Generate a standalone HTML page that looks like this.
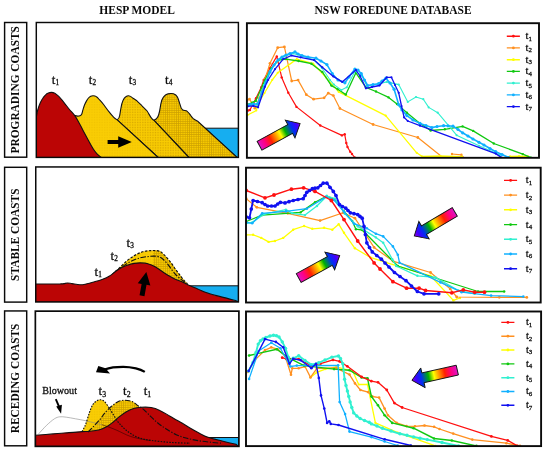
<!DOCTYPE html>
<html><head><meta charset="utf-8"><title>Foredune models</title>
<style>
html,body{margin:0;padding:0;background:#fff}
body{width:550px;height:456px;overflow:hidden}
svg{display:block}
text{font-family:"Liberation Serif",serif;fill:#0a0a0a}
.b{font-weight:bold}
.r{font-weight:normal;stroke:#111;stroke-width:0.28px}
.bx{fill:none;stroke:#0a0a0a;stroke-width:1.8}
</style></head><body>
<svg width="550" height="456" viewBox="0 0 550 456"><defs>
<linearGradient id="rb" gradientUnits="userSpaceOnUse" x1="0" y1="0" x2="46" y2="0">
<stop offset="0" stop-color="#dc14c8"/><stop offset="0.14" stop-color="#ff0080"/><stop offset="0.28" stop-color="#ff2000"/><stop offset="0.42" stop-color="#ffa000"/><stop offset="0.52" stop-color="#ffff00"/><stop offset="0.64" stop-color="#00b000"/><stop offset="0.8" stop-color="#0030f0"/><stop offset="0.92" stop-color="#4000ff"/><stop offset="1" stop-color="#8000e0"/>
</linearGradient>
<pattern id="d1" width="1.65" height="1.65" patternUnits="userSpaceOnUse"><rect width="1.65" height="1.65" fill="#f9cd04"/><rect width="0.7" height="0.7" fill="#efbf00"/></pattern>
<pattern id="d2" width="1.65" height="1.65" patternUnits="userSpaceOnUse"><rect width="1.65" height="1.65" fill="#f8cb02"/><rect width="0.75" height="0.75" fill="#d2a200"/></pattern>
<pattern id="d3" width="2.2" height="2.2" patternUnits="userSpaceOnUse"><rect width="2.2" height="2.2" fill="#f7c900"/><rect width="2.2" height="0.6" fill="#cca000"/><rect width="0.6" height="2.2" fill="#cca000"/></pattern>
<clipPath id="c1"><rect x="246.9" y="23.2" width="292.1" height="134.6"/></clipPath>
<clipPath id="c2"><rect x="246" y="167.7" width="294.7" height="134.8"/></clipPath>
<clipPath id="c3"><rect x="246" y="311.5" width="295.1" height="134.6"/></clipPath>
<clipPath id="p1"><rect x="36.3" y="22.5" width="202.2" height="134.9"/></clipPath>
<clipPath id="p2"><rect x="35.75" y="166.95" width="202.65" height="135"/></clipPath>
<clipPath id="p3"><rect x="35.35" y="311.15" width="203.55" height="135.2"/></clipPath>
</defs><rect width="550" height="456" fill="#fff"/><text transform="translate(137.1,13.5) scale(0.905,1)" text-anchor="middle" class="b" font-size="12.7">HESP MODEL</text><text transform="translate(393.1,13.5) scale(0.905,1)" text-anchor="middle" class="b" font-size="12.7">NSW FOREDUNE DATABASE</text><g clip-path="url(#p1)">
<path d="M205,128.2 L238.7,128.2 L238.7,157.5 L237,157.5 Z" fill="#16aef0" stroke="#111" stroke-width="1"/>
<path d="M153.8,120.2 C156,119.5 157.6,118 158.6,115 C160,111 160.2,107 160.8,104.1 C161.5,100.5 162.3,98.5 163.4,97.1 C164.8,95.2 166,94.3 167.8,93.9 C169.8,93.4 171.8,93.4 173.5,93.7 C175.2,94.2 176.5,95.3 177.4,97.1 C178.5,99.3 179.2,102 179.9,104.1 C180.5,106.5 181.2,108.8 182.5,109.8 C184,110.8 185.5,110.3 186.9,111.1 C188.5,112.2 189.6,114 190.7,115.5 C191.6,116.7 192.4,117.8 193.3,118.7 C194.6,119.9 196,120.5 197.7,121.3 L237.3,157.5 L189,157.5 Z" fill="url(#d3)" stroke="#111" stroke-width="1.1"/>
<path d="M117.2,119.9 C118.6,119 119.4,117.5 119.7,115.5 C120.3,112.5 120.5,110 121,107.8 C121.5,105 122,102.8 122.9,100.8 C123.6,99.2 124.4,97.8 125.5,97 C126.5,96.2 127.5,95.7 128.6,95.7 C130.3,95.7 131.7,97 133.1,98.3 C134.4,99.3 135.6,99.8 136.9,100.8 C138.7,102.3 140.3,104.1 142,105.9 C143.7,107.6 145.5,109.2 147.1,111 C148.5,113 149.6,115.5 150.9,117.4 C151.8,118.7 152.7,119.8 153.8,120.2 L189,157.5 L158.2,157.5 Z" fill="url(#d2)" stroke="#111" stroke-width="1.1"/>
<path d="M74.8,115.6 C75.2,115.7 76.6,116.1 77.5,116.1 C78.4,116.1 79.3,116.1 80.0,115.8 C80.7,115.5 81.3,115.0 81.8,114.0 C82.3,113.0 82.5,111.2 83.0,109.7 C83.5,108.2 83.9,106.4 84.5,105.0 C85.1,103.6 85.7,102.3 86.4,101.1 C87.1,99.9 87.8,98.8 88.5,98.0 C89.2,97.2 90.0,96.7 90.7,96.3 C91.5,95.9 92.3,95.8 93.0,95.8 C93.7,95.8 94.4,95.8 95.0,96.0 C95.6,96.2 96.2,96.6 96.8,97.0 C97.4,97.4 97.3,97.2 98.4,98.5 C99.5,99.8 101.9,102.3 103.6,104.5 C105.3,106.7 107.0,109.2 108.7,111.4 C110.4,113.6 112.4,116.0 113.8,117.4 C115.2,118.8 116.6,119.5 117.2,119.9  L158.2,157.5 L80,157.5 L68,118 Z" fill="url(#d1)" stroke="#111" stroke-width="1.1"/>
<path d="M36.3,157.5 L36.3,117.5 C36.5,116.3 36.9,113.0 37.6,110.5 C38.3,108.0 39.4,104.8 40.3,102.8 C41.2,100.8 41.9,99.5 42.8,98.2 C43.6,96.9 44.5,95.9 45.4,95.1 C46.3,94.2 47.3,93.5 48.3,93.1 C49.3,92.6 50.3,92.4 51.4,92.4 C52.5,92.4 53.6,92.6 54.8,93.2 C56.0,93.8 56.9,94.6 58.5,96.2 C60.1,97.8 62.4,100.6 64.2,102.8 C66.0,105.0 67.7,107.4 69.5,109.5 C71.3,111.6 73.1,113.2 74.8,115.6 C76.5,118.0 78.0,121.0 79.7,124.0 C81.4,127.0 83.2,130.7 84.7,133.6 C86.2,136.5 87.6,138.9 89.0,141.5 C90.4,144.1 92.0,146.9 93.3,149.0 C94.6,151.1 95.7,152.4 97.0,153.8 C98.3,155.2 100.5,156.9 101.2,157.5  Z" fill="#bb0505" stroke="#111" stroke-width="1.1"/>
<path d="M107.6,140.1 L118.2,140.1 L118.2,136.2 L131.8,142 L118.2,147.8 L118.2,143.9 L107.6,143.9 Z" fill="#000"/>
</g>
<text x="51.8" y="84.2" font-size="13" class="r">t<tspan font-size="7.3" dy="0.9">1</tspan></text><text x="88.8" y="84.2" font-size="13" class="r">t<tspan font-size="7.3" dy="0.9">2</tspan></text><text x="128.8" y="84.2" font-size="13" class="r">t<tspan font-size="7.3" dy="0.9">3</tspan></text><text x="165.0" y="84.2" font-size="13" class="r">t<tspan font-size="7.3" dy="0.9">4</tspan></text><g clip-path="url(#p2)">
<path d="M189,285.8 L238.7,285.8 L238.7,302.2 L189,302.2 Z" fill="#16aef0" stroke="#111" stroke-width="1"/>
<path d="M112.5,274.0 C113.3,273.3 115.1,271.9 117.4,269.8 C119.7,267.7 123.6,263.7 126.4,261.3 C129.2,258.9 131.8,257.1 134.5,255.5 C137.2,253.9 140.0,252.6 142.7,251.8 C145.4,251.0 148.2,250.7 150.9,250.6 C153.6,250.5 156.9,250.4 159.1,251.1 C161.3,251.8 162.1,252.9 164.0,254.7 C165.9,256.5 168.4,259.5 170.5,262.1 C172.6,264.7 174.5,267.9 176.3,270.3 C178.1,272.8 179.7,274.9 181.2,276.8 C182.7,278.7 184.2,280.5 185.3,281.7 C186.4,282.9 187.1,283.4 187.5,283.8  L160,280 Z" fill="url(#d1)"/>
<clipPath id="rr"><rect x="153" y="240" width="40" height="50"/></clipPath>
<path d="M112.5,274.0 C113.3,273.3 115.1,271.9 117.4,269.8 C119.7,267.7 123.6,263.7 126.4,261.3 C129.2,258.9 131.8,257.1 134.5,255.5 C137.2,253.9 140.0,252.6 142.7,251.8 C145.4,251.0 148.2,250.7 150.9,250.6 C153.6,250.5 156.9,250.4 159.1,251.1 C161.3,251.8 162.1,252.9 164.0,254.7 C165.9,256.5 168.4,259.5 170.5,262.1 C172.6,264.7 174.5,267.9 176.3,270.3 C178.1,272.8 179.7,274.9 181.2,276.8 C182.7,278.7 184.2,280.5 185.3,281.7 C186.4,282.9 187.1,283.4 187.5,283.8  L160,280 Z" fill="url(#d3)" clip-path="url(#rr)"/>
<path d="M112.5,274.0 C113.3,273.3 115.1,271.9 117.4,269.8 C119.7,267.7 123.6,263.7 126.4,261.3 C129.2,258.9 131.8,257.1 134.5,255.5 C137.2,253.9 140.0,252.6 142.7,251.8 C145.4,251.0 148.2,250.7 150.9,250.6 C153.6,250.5 156.9,250.4 159.1,251.1 C161.3,251.8 162.1,252.9 164.0,254.7 C165.9,256.5 168.4,259.5 170.5,262.1 C172.6,264.7 174.5,267.9 176.3,270.3 C178.1,272.8 179.7,274.9 181.2,276.8 C182.7,278.7 184.2,280.5 185.3,281.7 C186.4,282.9 187.1,283.4 187.5,283.8 " fill="none" stroke="#111" stroke-width="1.15" stroke-dasharray="2.5 1.5"/>
<path d="M114.5,272.5 C115.4,271.8 117.3,270.1 119.8,268.4 C122.3,266.7 126.3,263.8 129.6,262.1 C132.9,260.4 136.2,258.9 139.5,258.0 C142.8,257.1 146.3,256.7 149.3,256.4 C152.3,256.1 155.3,256.0 157.5,256.4 C159.7,256.8 160.8,257.6 162.4,258.8 C164.0,260.0 165.7,261.8 167.3,263.7 C168.9,265.6 170.6,268.2 172.2,270.3 C173.8,272.4 175.5,274.4 177.1,276.0 C178.7,277.6 180.5,278.9 182.0,280.1 C183.5,281.3 185.3,282.5 186.0,283.0 " fill="none" stroke="#111" stroke-width="1.1" stroke-dasharray="5.5 1.6 1.3 1.6"/>
<path d="M35.2,302.2 L35.2,284 L60.0,284.0 C60.7,283.9 62.8,283.8 64.0,283.6 C65.2,283.4 66.2,283.0 67.5,283.0 C68.8,283.0 69.9,283.3 72.0,283.6 C74.1,283.9 77.5,284.8 80.0,284.8 C82.5,284.8 84.6,284.3 87.0,283.8 C89.4,283.3 92.0,282.5 94.5,281.8 C97.0,281.1 99.6,280.4 102.0,279.5 C104.4,278.6 106.7,277.8 109.1,276.3 C111.5,274.9 114.5,272.2 116.5,270.8 C118.5,269.4 119.5,268.7 121.2,267.8 C122.9,266.9 124.3,266.2 126.4,265.5 C128.5,264.8 131.6,263.8 134.0,263.4 C136.4,263.0 138.8,262.8 141.1,262.9 C143.4,263.0 145.8,263.2 148.0,263.8 C150.2,264.4 151.5,264.7 154.2,266.2 C156.9,267.7 160.7,270.6 164.0,272.7 C167.3,274.8 170.8,277.0 173.8,278.5 C176.8,280.0 179.6,280.6 182.0,281.7 C184.4,282.8 185.7,283.9 188.3,285.1 C190.9,286.3 194.8,287.7 197.7,288.9 C200.6,290.1 203.0,291.4 206.0,292.5 C209.0,293.6 211.9,294.4 215.5,295.4 C219.1,296.4 223.8,297.5 227.3,298.4 C230.8,299.3 235.1,300.6 236.7,301.0  L238.7,302.2 Z" fill="#bb0505" stroke="#111" stroke-width="1.1"/>
<g transform="translate(142,295.7) rotate(-79.6)"><path d="M0,-2.5 L11.5,-2.5 L11.5,-6.4 L24,0 L11.5,6.4 L11.5,2.5 L0,2.5 Z" fill="#000"/></g>
</g>
<text x="94.6" y="275.8" font-size="13" class="r">t<tspan font-size="7.3" dy="0.9">1</tspan></text><text x="110.6" y="260.0" font-size="13" class="r">t<tspan font-size="7.3" dy="0.9">2</tspan></text><text x="126.6" y="247.0" font-size="13" class="r">t<tspan font-size="7.3" dy="0.9">3</tspan></text><g clip-path="url(#p3)">
<path d="M207,437.5 L238.7,437.5 L238.7,446.6 L207,446.6 Z" fill="#16aef0" stroke="#111" stroke-width="1"/>
<path d="M82.0,431.6 C82.3,431.0 83.3,429.4 84.0,428.0 C84.7,426.6 85.1,425.9 86.0,423.4 C86.9,420.9 88.2,416.0 89.3,412.9 C90.4,409.8 91.4,407.0 92.6,405.0 C93.8,403.0 95.2,401.9 96.5,401.0 C97.8,400.1 99.0,399.7 100.3,399.8 C101.6,399.9 103.1,400.3 104.5,401.6 C105.9,402.9 107.6,405.6 108.9,407.5 C110.2,409.4 111.0,411.0 112.5,413.3 C114.0,415.6 115.8,418.9 117.6,421.3 C119.4,423.7 121.3,425.8 123.5,427.8 C125.7,429.9 129.5,432.6 130.7,433.6  L100,434 Z" fill="url(#d1)"/>
<path d="M88.0,432.0 C89.0,431.0 91.8,428.2 93.9,426.0 C96.0,423.8 98.7,420.9 100.5,418.8 C102.3,416.7 102.6,415.4 104.5,413.3 C106.4,411.2 109.5,407.9 111.8,406.0 C114.1,404.1 116.2,402.6 118.4,401.6 C120.6,400.6 122.6,400.2 124.9,400.2 C127.2,400.2 130.0,400.7 132.2,401.6 C134.4,402.5 136.1,404.4 138.0,405.7 C139.9,407.0 141.6,407.7 143.8,409.6 C146.0,411.5 148.7,414.6 151.1,416.9 C153.5,419.2 157.2,422.4 158.4,423.5  L120,434 Z" fill="url(#d3)"/>
<path d="M35.2,446.6 L35.2,435.2 C38.2,435.0 47.5,434.3 53.1,433.9 C58.7,433.5 64.1,433.0 68.9,432.6 C73.7,432.2 78.5,431.8 82.0,431.6 C85.5,431.4 87.2,431.5 90.0,431.2 C92.8,430.9 96.0,430.7 98.7,430.0 C101.4,429.3 103.6,428.4 106.0,427.1 C108.4,425.8 111.1,423.7 113.3,422.0 C115.5,420.3 116.9,418.6 119.1,416.9 C121.3,415.2 124.0,413.2 126.4,411.8 C128.8,410.4 131.2,409.2 133.6,408.5 C136.0,407.8 138.0,407.5 140.9,407.3 C143.8,407.1 147.9,407.0 151.1,407.5 C154.2,408.0 156.7,408.9 159.8,410.4 C163.0,411.8 166.5,414.2 170.0,416.2 C173.5,418.2 177.7,420.5 181.0,422.5 C184.3,424.5 187.0,426.2 190.0,428.0 C193.0,429.8 196.0,431.4 199.0,433.0 C202.0,434.6 204.2,436.0 208.0,437.3 C211.8,438.6 217.3,439.8 222.0,441.0 C226.7,442.2 233.7,443.8 236.0,444.3  L238.7,446.6 Z" fill="#bb0505" stroke="#111" stroke-width="1.1"/>
<path d="M101.8,424.7 C103.2,425.2 107.6,426.6 110.0,427.5 C112.4,428.4 114.0,429.1 116.2,430.0 C118.4,430.9 120.6,432.1 123.0,433.2 C125.4,434.3 127.9,435.6 130.7,436.5 C133.4,437.4 136.3,438.0 139.5,438.7 C142.7,439.4 148.2,440.2 150.0,440.5 " fill="none" stroke="#300" stroke-width="0.6"/>
<path d="M38.6,433.9 C39.9,432.5 43.9,427.9 46.5,425.4 C49.1,422.9 52.2,420.2 54.4,418.8 C56.6,417.4 57.7,417.1 59.7,416.8 C61.7,416.5 63.7,416.9 66.3,417.2 C68.9,417.5 72.2,418.2 75.5,418.8 C78.8,419.4 82.9,420.1 86.0,420.8 C89.1,421.5 91.3,422.2 93.9,422.8 C96.5,423.4 100.5,424.4 101.8,424.7 " fill="none" stroke="#8a8a8a" stroke-width="0.6"/>
<path d="M82.0,431.6 C82.3,431.0 83.3,429.4 84.0,428.0 C84.7,426.6 85.1,425.9 86.0,423.4 C86.9,420.9 88.2,416.0 89.3,412.9 C90.4,409.8 91.4,407.0 92.6,405.0 C93.8,403.0 95.2,401.9 96.5,401.0 C97.8,400.1 99.0,399.7 100.3,399.8 C101.6,399.9 103.1,400.3 104.5,401.6 C105.9,402.9 107.6,405.6 108.9,407.5 C110.2,409.4 111.0,411.0 112.5,413.3 C114.0,415.6 115.8,418.9 117.6,421.3 C119.4,423.7 121.3,425.8 123.5,427.8 C125.7,429.9 128.0,431.9 130.7,433.6 C133.4,435.3 136.1,436.9 139.5,438.0 C142.9,439.1 146.0,439.7 151.1,440.4 C156.2,441.1 163.5,441.9 170.0,442.4 C176.5,442.9 186.7,443.1 190.0,443.2 " fill="none" stroke="#111" stroke-width="1.15" stroke-dasharray="1.6 1.3"/>
<path d="M88.0,432.0 C89.0,431.0 91.8,428.2 93.9,426.0 C96.0,423.8 98.7,420.9 100.5,418.8 C102.3,416.7 102.6,415.4 104.5,413.3 C106.4,411.2 109.5,407.9 111.8,406.0 C114.1,404.1 116.2,402.6 118.4,401.6 C120.6,400.6 122.6,400.2 124.9,400.2 C127.2,400.2 130.0,400.7 132.2,401.6 C134.4,402.5 136.1,404.4 138.0,405.7 C139.9,407.0 141.6,407.7 143.8,409.6 C146.0,411.5 148.7,414.6 151.1,416.9 C153.5,419.2 156.0,421.6 158.4,423.5 C160.8,425.4 162.6,426.6 165.6,428.5 C168.6,430.4 172.6,433.1 176.2,434.7 C179.8,436.3 183.2,437.3 187.0,438.3 C190.8,439.3 194.8,440.1 199.0,440.8 C203.2,441.5 208.3,442.0 212.0,442.4 C215.7,442.8 219.5,443.0 221.0,443.1 " fill="none" stroke="#111" stroke-width="1.1" stroke-dasharray="5.5 1.6 1.3 1.6"/>
</g>
<g transform="translate(0,0.6)"><path d="M144.8,371.3 C142,369.5 139,368.4 135.9,367.7 C131.5,366.7 127.5,366.2 123.2,366.2 C119.5,366.2 116,366.3 113,366.7 C110,367.2 107.5,367.8 104.5,368.9" fill="none" stroke="#000" stroke-width="2.3"/>
<path d="M96,371.6 L98.3,365.4 L105.5,367.6 L110,372.8 Z" fill="#000"/></g>
<path d="M55.8,399.2 L59.2,407" fill="none" stroke="#000" stroke-width="1.9"/>
<path d="M61.1,413.8 L56.2,406.5 L61.9,404.8 Z" fill="#000"/>
<text x="42.2" y="394.2" font-size="10.1" class="r">Blowout</text>
<text x="98.6" y="394.8" font-size="13" class="r">t<tspan font-size="7.8" dy="2.2">3</tspan></text><text x="123.0" y="394.8" font-size="13" class="r">t<tspan font-size="7.8" dy="2.2">2</tspan></text><text x="143.7" y="394.8" font-size="13" class="r">t<tspan font-size="7.8" dy="2.2">1</tspan></text><g clip-path="url(#c1)"><polyline points="248.1,110.5 249.9,110.0 253.5,103.0 256.0,98.2 261.3,87.3 263.7,80.0 270.0,68.0 276.8,56.4 281.7,77.4 288.3,92.8 296.5,106.9 320.3,125.5 341.9,135.4 344.7,134.3 346.3,143.0 347.5,147.0 350.2,151.7 352.0,154.0 355.0,157.8" fill="none" stroke="#ff1010" stroke-width="1.2" stroke-linejoin="round" stroke-linecap="round"/><circle cx="248.1" cy="110.5" r="1.2" fill="#ff1010"/><circle cx="249.9" cy="110.0" r="1.2" fill="#ff1010"/><circle cx="253.5" cy="103.0" r="1.2" fill="#ff1010"/><circle cx="256.0" cy="98.2" r="1.2" fill="#ff1010"/><circle cx="261.3" cy="87.3" r="1.2" fill="#ff1010"/><circle cx="263.7" cy="80.0" r="1.2" fill="#ff1010"/><circle cx="270.0" cy="68.0" r="1.2" fill="#ff1010"/><circle cx="276.8" cy="56.4" r="1.2" fill="#ff1010"/><circle cx="281.7" cy="77.4" r="1.2" fill="#ff1010"/><circle cx="288.3" cy="92.8" r="1.2" fill="#ff1010"/><circle cx="296.5" cy="106.9" r="1.2" fill="#ff1010"/><circle cx="320.3" cy="125.5" r="1.2" fill="#ff1010"/><circle cx="341.9" cy="135.4" r="1.2" fill="#ff1010"/><circle cx="344.7" cy="134.3" r="1.2" fill="#ff1010"/><circle cx="346.3" cy="143.0" r="1.2" fill="#ff1010"/><circle cx="347.5" cy="147.0" r="1.2" fill="#ff1010"/><circle cx="350.2" cy="151.7" r="1.2" fill="#ff1010"/><circle cx="352.0" cy="154.0" r="1.2" fill="#ff1010"/><circle cx="355.0" cy="157.8" r="1.2" fill="#ff1010"/><polyline points="247.0,100.5 249.5,99.1 254.9,108.2 259.5,98.0 265.0,79.5 270.0,63.3 277.7,47.7 284.4,46.9 291.7,81.0 298.1,80.1 306.3,94.7 313.6,99.2 324.1,97.8 328.3,93.2 333.3,95.6 339.9,108.5 373.1,124.5 417.8,137.5 442.5,157.3" fill="none" stroke="#ff9020" stroke-width="1.2" stroke-linejoin="round" stroke-linecap="round"/><circle cx="247.0" cy="100.5" r="1.4" fill="#ff9020"/><circle cx="249.5" cy="99.1" r="1.4" fill="#ff9020"/><circle cx="254.9" cy="108.2" r="1.4" fill="#ff9020"/><circle cx="259.5" cy="98.0" r="1.4" fill="#ff9020"/><circle cx="265.0" cy="79.5" r="1.4" fill="#ff9020"/><circle cx="270.0" cy="63.3" r="1.4" fill="#ff9020"/><circle cx="277.7" cy="47.7" r="1.4" fill="#ff9020"/><circle cx="284.4" cy="46.9" r="1.4" fill="#ff9020"/><circle cx="291.7" cy="81.0" r="1.4" fill="#ff9020"/><circle cx="298.1" cy="80.1" r="1.4" fill="#ff9020"/><circle cx="306.3" cy="94.7" r="1.4" fill="#ff9020"/><circle cx="313.6" cy="99.2" r="1.4" fill="#ff9020"/><circle cx="324.1" cy="97.8" r="1.4" fill="#ff9020"/><circle cx="328.3" cy="93.2" r="1.4" fill="#ff9020"/><circle cx="333.3" cy="95.6" r="1.4" fill="#ff9020"/><circle cx="339.9" cy="108.5" r="1.4" fill="#ff9020"/><circle cx="373.1" cy="124.5" r="1.4" fill="#ff9020"/><circle cx="417.8" cy="137.5" r="1.4" fill="#ff9020"/><circle cx="442.5" cy="157.3" r="1.4" fill="#ff9020"/><polyline points="452.0,154.0 461.4,154.8 463.0,157.5 500.0,157.5" fill="none" stroke="#ff9020" stroke-width="1.2" stroke-linejoin="round" stroke-linecap="round"/><circle cx="452.0" cy="154.0" r="1.2" fill="#ff9020"/><circle cx="461.4" cy="154.8" r="1.2" fill="#ff9020"/><circle cx="463.0" cy="157.5" r="1.2" fill="#ff9020"/><circle cx="500.0" cy="157.5" r="1.2" fill="#ff9020"/><polyline points="247.6,115.0 256.3,110.5 257.6,104.5 264.5,93.0 272.2,80.0 277.7,72.8 296.8,59.1 313.2,63.7 326.0,77.4 338.7,91.9 385.7,115.7 416.7,152.8 421.8,156.3 440.0,156.0 462.0,156.6" fill="none" stroke="#ffff00" stroke-width="1.3" stroke-linejoin="round" stroke-linecap="round"/><circle cx="247.6" cy="115.0" r="1.1" fill="#ffff00"/><circle cx="256.3" cy="110.5" r="1.1" fill="#ffff00"/><circle cx="257.6" cy="104.5" r="1.1" fill="#ffff00"/><circle cx="264.5" cy="93.0" r="1.1" fill="#ffff00"/><circle cx="272.2" cy="80.0" r="1.1" fill="#ffff00"/><circle cx="277.7" cy="72.8" r="1.1" fill="#ffff00"/><circle cx="296.8" cy="59.1" r="1.1" fill="#ffff00"/><circle cx="313.2" cy="63.7" r="1.1" fill="#ffff00"/><circle cx="326.0" cy="77.4" r="1.1" fill="#ffff00"/><circle cx="338.7" cy="91.9" r="1.1" fill="#ffff00"/><circle cx="385.7" cy="115.7" r="1.1" fill="#ffff00"/><circle cx="416.7" cy="152.8" r="1.1" fill="#ffff00"/><circle cx="421.8" cy="156.3" r="1.1" fill="#ffff00"/><circle cx="440.0" cy="156.0" r="1.1" fill="#ffff00"/><circle cx="462.0" cy="156.6" r="1.1" fill="#ffff00"/><polyline points="510.0,156.4 519.0,156.2 528.0,156.3" fill="none" stroke="#ffff00" stroke-width="1.3" stroke-linejoin="round" stroke-linecap="round"/><circle cx="510.0" cy="156.4" r="1.1" fill="#ffff00"/><circle cx="519.0" cy="156.2" r="1.1" fill="#ffff00"/><circle cx="528.0" cy="156.3" r="1.1" fill="#ffff00"/><polyline points="247.6,104.5 252.2,102.7 255.8,100.9 264.9,80.0 271.3,68.3 278.6,60.0 285.9,59.1 298.6,61.0 311.4,63.7 322.3,71.9 331.4,85.6 337.8,89.2 345.8,94.6 355.9,72.8 365.9,87.3 376.0,91.5 388.6,97.4 397.0,104.0 406.9,112.8 420.0,123.4 430.6,130.5 444.8,129.3 462.6,126.4 473.2,130.9 493.8,143.5 522.8,154.1 531.0,157.6" fill="none" stroke="#10c810" stroke-width="1.3" stroke-linejoin="round" stroke-linecap="round"/><circle cx="247.6" cy="104.5" r="1.2" fill="#10c810"/><circle cx="252.2" cy="102.7" r="1.2" fill="#10c810"/><circle cx="255.8" cy="100.9" r="1.2" fill="#10c810"/><circle cx="264.9" cy="80.0" r="1.2" fill="#10c810"/><circle cx="271.3" cy="68.3" r="1.2" fill="#10c810"/><circle cx="278.6" cy="60.0" r="1.2" fill="#10c810"/><circle cx="285.9" cy="59.1" r="1.2" fill="#10c810"/><circle cx="298.6" cy="61.0" r="1.2" fill="#10c810"/><circle cx="311.4" cy="63.7" r="1.2" fill="#10c810"/><circle cx="322.3" cy="71.9" r="1.2" fill="#10c810"/><circle cx="331.4" cy="85.6" r="1.2" fill="#10c810"/><circle cx="337.8" cy="89.2" r="1.2" fill="#10c810"/><circle cx="345.8" cy="94.6" r="1.2" fill="#10c810"/><circle cx="355.9" cy="72.8" r="1.2" fill="#10c810"/><circle cx="365.9" cy="87.3" r="1.2" fill="#10c810"/><circle cx="376.0" cy="91.5" r="1.2" fill="#10c810"/><circle cx="388.6" cy="97.4" r="1.2" fill="#10c810"/><circle cx="397.0" cy="104.0" r="1.2" fill="#10c810"/><circle cx="406.9" cy="112.8" r="1.2" fill="#10c810"/><circle cx="420.0" cy="123.4" r="1.2" fill="#10c810"/><circle cx="430.6" cy="130.5" r="1.2" fill="#10c810"/><circle cx="444.8" cy="129.3" r="1.2" fill="#10c810"/><circle cx="462.6" cy="126.4" r="1.2" fill="#10c810"/><circle cx="473.2" cy="130.9" r="1.2" fill="#10c810"/><circle cx="493.8" cy="143.5" r="1.2" fill="#10c810"/><circle cx="522.8" cy="154.1" r="1.2" fill="#10c810"/><circle cx="531.0" cy="157.6" r="1.2" fill="#10c810"/><polyline points="246.2,106.0 253.0,104.5 258.0,105.0 264.0,85.0 270.0,71.0 276.0,62.0 284.0,56.5 293.0,53.5 302.0,56.0 314.0,60.0 322.0,68.0 330.0,80.0 334.0,84.6 341.3,90.0 346.8,87.3 355.0,71.0 362.0,76.0 367.0,86.0 378.0,84.0 386.8,81.9 398.7,84.6 407.8,101.9 416.0,97.0 423.3,99.2 428.7,107.4 437.7,112.7 456.6,135.2 479.0,145.8 500.0,155.0" fill="none" stroke="#30f0d0" stroke-width="1.1" stroke-linejoin="round" stroke-linecap="round"/><circle cx="246.2" cy="106.0" r="1.1" fill="#30f0d0"/><circle cx="253.0" cy="104.5" r="1.1" fill="#30f0d0"/><circle cx="258.0" cy="105.0" r="1.1" fill="#30f0d0"/><circle cx="264.0" cy="85.0" r="1.1" fill="#30f0d0"/><circle cx="270.0" cy="71.0" r="1.1" fill="#30f0d0"/><circle cx="276.0" cy="62.0" r="1.1" fill="#30f0d0"/><circle cx="284.0" cy="56.5" r="1.1" fill="#30f0d0"/><circle cx="293.0" cy="53.5" r="1.1" fill="#30f0d0"/><circle cx="302.0" cy="56.0" r="1.1" fill="#30f0d0"/><circle cx="314.0" cy="60.0" r="1.1" fill="#30f0d0"/><circle cx="322.0" cy="68.0" r="1.1" fill="#30f0d0"/><circle cx="330.0" cy="80.0" r="1.1" fill="#30f0d0"/><circle cx="334.0" cy="84.6" r="1.1" fill="#30f0d0"/><circle cx="341.3" cy="90.0" r="1.1" fill="#30f0d0"/><circle cx="346.8" cy="87.3" r="1.1" fill="#30f0d0"/><circle cx="355.0" cy="71.0" r="1.1" fill="#30f0d0"/><circle cx="362.0" cy="76.0" r="1.1" fill="#30f0d0"/><circle cx="367.0" cy="86.0" r="1.1" fill="#30f0d0"/><circle cx="378.0" cy="84.0" r="1.1" fill="#30f0d0"/><circle cx="386.8" cy="81.9" r="1.1" fill="#30f0d0"/><circle cx="398.7" cy="84.6" r="1.1" fill="#30f0d0"/><circle cx="407.8" cy="101.9" r="1.1" fill="#30f0d0"/><circle cx="416.0" cy="97.0" r="1.1" fill="#30f0d0"/><circle cx="423.3" cy="99.2" r="1.1" fill="#30f0d0"/><circle cx="428.7" cy="107.4" r="1.1" fill="#30f0d0"/><circle cx="437.7" cy="112.7" r="1.1" fill="#30f0d0"/><circle cx="456.6" cy="135.2" r="1.1" fill="#30f0d0"/><circle cx="479.0" cy="145.8" r="1.1" fill="#30f0d0"/><circle cx="500.0" cy="155.0" r="1.1" fill="#30f0d0"/><polyline points="247.6,105.0 250.0,104.6 253.1,104.1 257.6,103.8 262.0,92.0 266.0,82.0 270.0,72.0 274.0,65.0 278.0,60.0 282.0,57.0 286.0,55.0 290.0,53.5 295.0,51.9 298.0,54.0 302.0,55.5 308.0,57.0 316.0,58.2 321.0,61.0 326.9,64.6 332.3,73.7 338.0,80.0 344.9,82.8 349.0,77.0 354.9,69.1 358.0,70.0 361.3,73.7 364.5,80.0 367.7,85.5 373.0,84.5 378.6,83.7 382.0,81.0 385.9,78.2 390.0,83.0 394.1,89.2 398.7,104.6 402.0,110.0 406.9,115.6 413.0,120.0 420.0,123.4 426.0,125.5 431.8,127.6 437.0,126.5 443.6,125.7 448.0,125.8 453.0,126.2 458.0,129.5 462.6,132.8 468.0,136.0 473.0,139.0 479.0,142.3 484.0,145.0 490.0,148.5 495.7,151.7 502.0,154.5 508.7,157.6" fill="none" stroke="#10b0ff" stroke-width="1.6" stroke-linejoin="round" stroke-linecap="round"/><circle cx="247.6" cy="105.0" r="1.6" fill="#10b0ff"/><circle cx="250.0" cy="104.6" r="1.6" fill="#10b0ff"/><circle cx="253.1" cy="104.1" r="1.6" fill="#10b0ff"/><circle cx="257.6" cy="103.8" r="1.6" fill="#10b0ff"/><circle cx="262.0" cy="92.0" r="1.6" fill="#10b0ff"/><circle cx="266.0" cy="82.0" r="1.6" fill="#10b0ff"/><circle cx="270.0" cy="72.0" r="1.6" fill="#10b0ff"/><circle cx="274.0" cy="65.0" r="1.6" fill="#10b0ff"/><circle cx="278.0" cy="60.0" r="1.6" fill="#10b0ff"/><circle cx="282.0" cy="57.0" r="1.6" fill="#10b0ff"/><circle cx="286.0" cy="55.0" r="1.6" fill="#10b0ff"/><circle cx="290.0" cy="53.5" r="1.6" fill="#10b0ff"/><circle cx="295.0" cy="51.9" r="1.6" fill="#10b0ff"/><circle cx="298.0" cy="54.0" r="1.6" fill="#10b0ff"/><circle cx="302.0" cy="55.5" r="1.6" fill="#10b0ff"/><circle cx="308.0" cy="57.0" r="1.6" fill="#10b0ff"/><circle cx="316.0" cy="58.2" r="1.6" fill="#10b0ff"/><circle cx="321.0" cy="61.0" r="1.6" fill="#10b0ff"/><circle cx="326.9" cy="64.6" r="1.6" fill="#10b0ff"/><circle cx="332.3" cy="73.7" r="1.6" fill="#10b0ff"/><circle cx="338.0" cy="80.0" r="1.6" fill="#10b0ff"/><circle cx="344.9" cy="82.8" r="1.6" fill="#10b0ff"/><circle cx="349.0" cy="77.0" r="1.6" fill="#10b0ff"/><circle cx="354.9" cy="69.1" r="1.6" fill="#10b0ff"/><circle cx="358.0" cy="70.0" r="1.6" fill="#10b0ff"/><circle cx="361.3" cy="73.7" r="1.6" fill="#10b0ff"/><circle cx="364.5" cy="80.0" r="1.6" fill="#10b0ff"/><circle cx="367.7" cy="85.5" r="1.6" fill="#10b0ff"/><circle cx="373.0" cy="84.5" r="1.6" fill="#10b0ff"/><circle cx="378.6" cy="83.7" r="1.6" fill="#10b0ff"/><circle cx="382.0" cy="81.0" r="1.6" fill="#10b0ff"/><circle cx="385.9" cy="78.2" r="1.6" fill="#10b0ff"/><circle cx="390.0" cy="83.0" r="1.6" fill="#10b0ff"/><circle cx="394.1" cy="89.2" r="1.6" fill="#10b0ff"/><circle cx="398.7" cy="104.6" r="1.6" fill="#10b0ff"/><circle cx="402.0" cy="110.0" r="1.6" fill="#10b0ff"/><circle cx="406.9" cy="115.6" r="1.6" fill="#10b0ff"/><circle cx="413.0" cy="120.0" r="1.6" fill="#10b0ff"/><circle cx="420.0" cy="123.4" r="1.6" fill="#10b0ff"/><circle cx="426.0" cy="125.5" r="1.6" fill="#10b0ff"/><circle cx="431.8" cy="127.6" r="1.6" fill="#10b0ff"/><circle cx="437.0" cy="126.5" r="1.6" fill="#10b0ff"/><circle cx="443.6" cy="125.7" r="1.6" fill="#10b0ff"/><circle cx="448.0" cy="125.8" r="1.6" fill="#10b0ff"/><circle cx="453.0" cy="126.2" r="1.6" fill="#10b0ff"/><circle cx="458.0" cy="129.5" r="1.6" fill="#10b0ff"/><circle cx="462.6" cy="132.8" r="1.6" fill="#10b0ff"/><circle cx="468.0" cy="136.0" r="1.6" fill="#10b0ff"/><circle cx="473.0" cy="139.0" r="1.6" fill="#10b0ff"/><circle cx="479.0" cy="142.3" r="1.6" fill="#10b0ff"/><circle cx="484.0" cy="145.0" r="1.6" fill="#10b0ff"/><circle cx="490.0" cy="148.5" r="1.6" fill="#10b0ff"/><circle cx="495.7" cy="151.7" r="1.6" fill="#10b0ff"/><circle cx="502.0" cy="154.5" r="1.6" fill="#10b0ff"/><circle cx="508.7" cy="157.6" r="1.6" fill="#10b0ff"/><polyline points="247.6,106.4 253.5,105.9 258.1,107.3 264.9,86.8 268.1,80.0 275.0,69.2 283.2,59.1 291.4,55.5 300.5,57.3 314.1,60.1 322.3,67.3 333.3,76.4 342.2,81.9 355.9,70.0 360.0,76.0 365.9,88.3 372.0,87.0 379.5,85.5 386.8,77.3 391.4,77.3 395.0,85.0 398.7,92.8 401.5,106.0 404.1,117.4 407.8,121.0 420.0,125.7 495.7,153.6 501.6,157.6" fill="none" stroke="#1010f0" stroke-width="1.3" stroke-linejoin="round" stroke-linecap="round"/><circle cx="247.6" cy="106.4" r="1.1" fill="#1010f0"/><circle cx="253.5" cy="105.9" r="1.1" fill="#1010f0"/><circle cx="258.1" cy="107.3" r="1.1" fill="#1010f0"/><circle cx="264.9" cy="86.8" r="1.1" fill="#1010f0"/><circle cx="268.1" cy="80.0" r="1.1" fill="#1010f0"/><circle cx="275.0" cy="69.2" r="1.1" fill="#1010f0"/><circle cx="283.2" cy="59.1" r="1.1" fill="#1010f0"/><circle cx="291.4" cy="55.5" r="1.1" fill="#1010f0"/><circle cx="300.5" cy="57.3" r="1.1" fill="#1010f0"/><circle cx="314.1" cy="60.1" r="1.1" fill="#1010f0"/><circle cx="322.3" cy="67.3" r="1.1" fill="#1010f0"/><circle cx="333.3" cy="76.4" r="1.1" fill="#1010f0"/><circle cx="342.2" cy="81.9" r="1.1" fill="#1010f0"/><circle cx="355.9" cy="70.0" r="1.1" fill="#1010f0"/><circle cx="360.0" cy="76.0" r="1.1" fill="#1010f0"/><circle cx="365.9" cy="88.3" r="1.1" fill="#1010f0"/><circle cx="372.0" cy="87.0" r="1.1" fill="#1010f0"/><circle cx="379.5" cy="85.5" r="1.1" fill="#1010f0"/><circle cx="386.8" cy="77.3" r="1.1" fill="#1010f0"/><circle cx="391.4" cy="77.3" r="1.1" fill="#1010f0"/><circle cx="395.0" cy="85.0" r="1.1" fill="#1010f0"/><circle cx="398.7" cy="92.8" r="1.1" fill="#1010f0"/><circle cx="401.5" cy="106.0" r="1.1" fill="#1010f0"/><circle cx="404.1" cy="117.4" r="1.1" fill="#1010f0"/><circle cx="407.8" cy="121.0" r="1.1" fill="#1010f0"/><circle cx="420.0" cy="125.7" r="1.1" fill="#1010f0"/><circle cx="495.7" cy="153.6" r="1.1" fill="#1010f0"/><circle cx="501.6" cy="157.6" r="1.1" fill="#1010f0"/><g transform="translate(259.5,145.7) rotate(-28.56)"><polygon points="0.0,-5.0 34.9,-5.0 34.9,-10.1 46.2,0.0 34.9,10.1 34.9,5.0 0.0,5.0" fill="url(#rb)" stroke="#111" stroke-width="0.9" stroke-linejoin="miter"/></g><line x1="506.8" y1="36.2" x2="519.9" y2="36.2" stroke="#ff1010" stroke-width="1.4"/><circle cx="513.4" cy="36.2" r="1.4" fill="#ff1010"/><text x="525.6" y="39.2" font-size="10.6" class="r">t<tspan font-size="6.9" dy="1.4">1</tspan></text><line x1="506.8" y1="47.9" x2="519.9" y2="47.9" stroke="#ff9020" stroke-width="1.4"/><circle cx="513.4" cy="47.9" r="1.4" fill="#ff9020"/><text x="525.6" y="50.9" font-size="10.6" class="r">t<tspan font-size="6.9" dy="1.4">2</tspan></text><line x1="506.8" y1="59.7" x2="519.9" y2="59.7" stroke="#ffff00" stroke-width="1.4"/><circle cx="513.4" cy="59.7" r="1.4" fill="#ffff00"/><text x="525.6" y="62.6" font-size="10.6" class="r">t<tspan font-size="6.9" dy="1.4">3</tspan></text><line x1="506.8" y1="71.4" x2="519.9" y2="71.4" stroke="#10c810" stroke-width="1.4"/><circle cx="513.4" cy="71.4" r="1.4" fill="#10c810"/><text x="525.6" y="74.3" font-size="10.6" class="r">t<tspan font-size="6.9" dy="1.4">4</tspan></text><line x1="506.8" y1="83.1" x2="519.9" y2="83.1" stroke="#30f0d0" stroke-width="1.4"/><circle cx="513.4" cy="83.1" r="1.4" fill="#30f0d0"/><text x="525.6" y="86.1" font-size="10.6" class="r">t<tspan font-size="6.9" dy="1.4">5</tspan></text><line x1="506.8" y1="94.9" x2="519.9" y2="94.9" stroke="#10b0ff" stroke-width="1.4"/><circle cx="513.4" cy="94.9" r="1.4" fill="#10b0ff"/><text x="525.6" y="97.8" font-size="10.6" class="r">t<tspan font-size="6.9" dy="1.4">6</tspan></text><line x1="506.8" y1="106.6" x2="519.9" y2="106.6" stroke="#1010f0" stroke-width="1.4"/><circle cx="513.4" cy="106.6" r="1.4" fill="#1010f0"/><text x="525.6" y="109.5" font-size="10.6" class="r">t<tspan font-size="6.9" dy="1.4">7</tspan></text></g><g clip-path="url(#c2)"><polyline points="246.2,234.8 253.1,234.8 261.3,237.9 268.6,241.9 275.0,241.0 283.2,237.9 293.2,229.7 304.1,226.0 312.3,228.8 324.1,227.8 332.3,229.7 338.7,224.2 344.0,232.8 354.9,248.3 370.4,257.4 386.4,262.7 430.5,275.8 453.4,300.4 460.0,298.0" fill="none" stroke="#ffff00" stroke-width="1.3" stroke-linejoin="round" stroke-linecap="round"/><circle cx="246.2" cy="234.8" r="1.2" fill="#ffff00"/><circle cx="253.1" cy="234.8" r="1.2" fill="#ffff00"/><circle cx="261.3" cy="237.9" r="1.2" fill="#ffff00"/><circle cx="268.6" cy="241.9" r="1.2" fill="#ffff00"/><circle cx="275.0" cy="241.0" r="1.2" fill="#ffff00"/><circle cx="283.2" cy="237.9" r="1.2" fill="#ffff00"/><circle cx="293.2" cy="229.7" r="1.2" fill="#ffff00"/><circle cx="304.1" cy="226.0" r="1.2" fill="#ffff00"/><circle cx="312.3" cy="228.8" r="1.2" fill="#ffff00"/><circle cx="324.1" cy="227.8" r="1.2" fill="#ffff00"/><circle cx="332.3" cy="229.7" r="1.2" fill="#ffff00"/><circle cx="338.7" cy="224.2" r="1.2" fill="#ffff00"/><circle cx="344.0" cy="232.8" r="1.2" fill="#ffff00"/><circle cx="354.9" cy="248.3" r="1.2" fill="#ffff00"/><circle cx="370.4" cy="257.4" r="1.2" fill="#ffff00"/><circle cx="386.4" cy="262.7" r="1.2" fill="#ffff00"/><circle cx="430.5" cy="275.8" r="1.2" fill="#ffff00"/><circle cx="453.4" cy="300.4" r="1.2" fill="#ffff00"/><circle cx="460.0" cy="298.0" r="1.2" fill="#ffff00"/><polyline points="246.2,198.7 256.8,207.3 287.7,213.3 320.1,220.6 343.1,212.8 354.9,218.2 374.1,247.4 392.9,261.1 430.5,272.5 450.2,288.9 456.7,297.0 499.3,297.3 526.8,297.4" fill="none" stroke="#ff9020" stroke-width="1.2" stroke-linejoin="round" stroke-linecap="round"/><circle cx="246.2" cy="198.7" r="1.4" fill="#ff9020"/><circle cx="256.8" cy="207.3" r="1.4" fill="#ff9020"/><circle cx="287.7" cy="213.3" r="1.4" fill="#ff9020"/><circle cx="320.1" cy="220.6" r="1.4" fill="#ff9020"/><circle cx="343.1" cy="212.8" r="1.4" fill="#ff9020"/><circle cx="354.9" cy="218.2" r="1.4" fill="#ff9020"/><circle cx="374.1" cy="247.4" r="1.4" fill="#ff9020"/><circle cx="392.9" cy="261.1" r="1.4" fill="#ff9020"/><circle cx="430.5" cy="272.5" r="1.4" fill="#ff9020"/><circle cx="450.2" cy="288.9" r="1.4" fill="#ff9020"/><circle cx="456.7" cy="297.0" r="1.4" fill="#ff9020"/><circle cx="499.3" cy="297.3" r="1.4" fill="#ff9020"/><circle cx="526.8" cy="297.4" r="1.4" fill="#ff9020"/><polyline points="246.2,221.5 262.2,215.1 300.5,212.4 315.0,202.3 326.9,196.0 334.0,199.0 344.0,211.4 352.2,221.0 355.9,229.2 362.2,230.0 397.8,266.0 478.0,291.5 504.2,291.5" fill="none" stroke="#10c810" stroke-width="1.3" stroke-linejoin="round" stroke-linecap="round"/><circle cx="246.2" cy="221.5" r="1.2" fill="#10c810"/><circle cx="262.2" cy="215.1" r="1.2" fill="#10c810"/><circle cx="300.5" cy="212.4" r="1.2" fill="#10c810"/><circle cx="315.0" cy="202.3" r="1.2" fill="#10c810"/><circle cx="326.9" cy="196.0" r="1.2" fill="#10c810"/><circle cx="334.0" cy="199.0" r="1.2" fill="#10c810"/><circle cx="344.0" cy="211.4" r="1.2" fill="#10c810"/><circle cx="352.2" cy="221.0" r="1.2" fill="#10c810"/><circle cx="355.9" cy="229.2" r="1.2" fill="#10c810"/><circle cx="362.2" cy="230.0" r="1.2" fill="#10c810"/><circle cx="397.8" cy="266.0" r="1.2" fill="#10c810"/><circle cx="478.0" cy="291.5" r="1.2" fill="#10c810"/><circle cx="504.2" cy="291.5" r="1.2" fill="#10c810"/><polyline points="246.2,223.3 252.2,222.4 264.0,214.2 285.9,209.6 292.3,213.3 305.0,215.1 316.9,206.0 326.9,196.0 335.0,198.7 344.9,213.7 357.7,226.4 375.9,237.4 383.2,242.8 392.3,259.2 396.2,266.0 417.4,275.8 435.4,277.4 458.4,290.5 474.7,293.8" fill="none" stroke="#30f0d0" stroke-width="1.3" stroke-linejoin="round" stroke-linecap="round"/><circle cx="246.2" cy="223.3" r="1.2" fill="#30f0d0"/><circle cx="252.2" cy="222.4" r="1.2" fill="#30f0d0"/><circle cx="264.0" cy="214.2" r="1.2" fill="#30f0d0"/><circle cx="285.9" cy="209.6" r="1.2" fill="#30f0d0"/><circle cx="292.3" cy="213.3" r="1.2" fill="#30f0d0"/><circle cx="305.0" cy="215.1" r="1.2" fill="#30f0d0"/><circle cx="316.9" cy="206.0" r="1.2" fill="#30f0d0"/><circle cx="326.9" cy="196.0" r="1.2" fill="#30f0d0"/><circle cx="335.0" cy="198.7" r="1.2" fill="#30f0d0"/><circle cx="344.9" cy="213.7" r="1.2" fill="#30f0d0"/><circle cx="357.7" cy="226.4" r="1.2" fill="#30f0d0"/><circle cx="375.9" cy="237.4" r="1.2" fill="#30f0d0"/><circle cx="383.2" cy="242.8" r="1.2" fill="#30f0d0"/><circle cx="392.3" cy="259.2" r="1.2" fill="#30f0d0"/><circle cx="396.2" cy="266.0" r="1.2" fill="#30f0d0"/><circle cx="417.4" cy="275.8" r="1.2" fill="#30f0d0"/><circle cx="435.4" cy="277.4" r="1.2" fill="#30f0d0"/><circle cx="458.4" cy="290.5" r="1.2" fill="#30f0d0"/><circle cx="474.7" cy="293.8" r="1.2" fill="#30f0d0"/><polyline points="246.2,222.4 252.2,223.3 262.2,213.3 285.9,211.4 306.8,208.7 326.0,196.9 334.0,200.0 344.0,211.9 354.0,223.7 366.8,228.3 375.9,233.7 383.2,236.4 392.9,246.4 397.8,254.7 399.5,262.7 440.4,282.4 461.6,292.2 491.1,295.6 523.3,296.6" fill="none" stroke="#10b0ff" stroke-width="1.3" stroke-linejoin="round" stroke-linecap="round"/><circle cx="246.2" cy="222.4" r="1.3" fill="#10b0ff"/><circle cx="252.2" cy="223.3" r="1.3" fill="#10b0ff"/><circle cx="262.2" cy="213.3" r="1.3" fill="#10b0ff"/><circle cx="285.9" cy="211.4" r="1.3" fill="#10b0ff"/><circle cx="306.8" cy="208.7" r="1.3" fill="#10b0ff"/><circle cx="326.0" cy="196.9" r="1.3" fill="#10b0ff"/><circle cx="334.0" cy="200.0" r="1.3" fill="#10b0ff"/><circle cx="344.0" cy="211.9" r="1.3" fill="#10b0ff"/><circle cx="354.0" cy="223.7" r="1.3" fill="#10b0ff"/><circle cx="366.8" cy="228.3" r="1.3" fill="#10b0ff"/><circle cx="375.9" cy="233.7" r="1.3" fill="#10b0ff"/><circle cx="383.2" cy="236.4" r="1.3" fill="#10b0ff"/><circle cx="392.9" cy="246.4" r="1.3" fill="#10b0ff"/><circle cx="397.8" cy="254.7" r="1.3" fill="#10b0ff"/><circle cx="399.5" cy="262.7" r="1.3" fill="#10b0ff"/><circle cx="440.4" cy="282.4" r="1.3" fill="#10b0ff"/><circle cx="461.6" cy="292.2" r="1.3" fill="#10b0ff"/><circle cx="491.1" cy="295.6" r="1.3" fill="#10b0ff"/><circle cx="523.3" cy="296.6" r="1.3" fill="#10b0ff"/><polyline points="246.2,190.5 265.0,197.8 274.0,195.0 291.4,189.2 303.6,187.8 315.0,191.4 331.4,200.5 344.0,219.6 357.7,241.0 374.1,262.9 380.0,269.0 392.9,281.7 406.6,288.2 419.1,288.2 425.6,290.5 451.8,292.8 463.3,289.9 474.7,292.2 484.5,292.2" fill="none" stroke="#ff1010" stroke-width="1.4" stroke-linejoin="round" stroke-linecap="round"/><circle cx="246.2" cy="190.5" r="1.9" fill="#ff1010"/><circle cx="265.0" cy="197.8" r="1.9" fill="#ff1010"/><circle cx="274.0" cy="195.0" r="1.9" fill="#ff1010"/><circle cx="291.4" cy="189.2" r="1.9" fill="#ff1010"/><circle cx="303.6" cy="187.8" r="1.9" fill="#ff1010"/><circle cx="315.0" cy="191.4" r="1.9" fill="#ff1010"/><circle cx="331.4" cy="200.5" r="1.9" fill="#ff1010"/><circle cx="344.0" cy="219.6" r="1.9" fill="#ff1010"/><circle cx="357.7" cy="241.0" r="1.9" fill="#ff1010"/><circle cx="374.1" cy="262.9" r="1.9" fill="#ff1010"/><circle cx="380.0" cy="269.0" r="1.9" fill="#ff1010"/><circle cx="392.9" cy="281.7" r="1.9" fill="#ff1010"/><circle cx="406.6" cy="288.2" r="1.9" fill="#ff1010"/><circle cx="419.1" cy="288.2" r="1.9" fill="#ff1010"/><circle cx="425.6" cy="290.5" r="1.9" fill="#ff1010"/><circle cx="451.8" cy="292.8" r="1.9" fill="#ff1010"/><circle cx="463.3" cy="289.9" r="1.9" fill="#ff1010"/><circle cx="474.7" cy="292.2" r="1.9" fill="#ff1010"/><circle cx="484.5" cy="292.2" r="1.9" fill="#ff1010"/><polyline points="246.2,216.9 249.5,217.8 251.3,209.0 253.1,200.5 257.5,201.5 262.2,202.7 265.0,204.5 267.7,206.0 271.5,206.0 275.0,206.0 277.7,204.0 280.4,202.3 285.0,202.9 289.0,201.7 293.2,200.5 298.0,199.5 303.2,198.7 305.0,195.5 306.8,192.3 309.5,190.5 312.3,188.7 315.0,188.2 317.8,187.8 320.5,185.5 323.2,183.2 326.9,183.2 330.0,187.3 333.3,191.4 336.0,195.5 339.5,204.6 342.5,206.5 345.8,208.2 348.0,210.5 350.4,212.8 354.0,213.7 357.7,214.6 360.0,216.4 362.2,218.2 364.0,226.4 365.4,234.5 366.8,242.8 369.5,247.5 372.3,251.9 376.8,255.5 381.4,259.2 385.0,263.0 389.0,267.0 394.5,272.5 400.0,276.5 406.0,280.7 411.5,286.0 417.4,291.5 424.0,293.8 438.7,293.8" fill="none" stroke="#1010f0" stroke-width="1.8" stroke-linejoin="round" stroke-linecap="round"/><circle cx="246.2" cy="216.9" r="1.85" fill="#1010f0"/><circle cx="249.5" cy="217.8" r="1.85" fill="#1010f0"/><circle cx="251.3" cy="209.0" r="1.85" fill="#1010f0"/><circle cx="253.1" cy="200.5" r="1.85" fill="#1010f0"/><circle cx="257.5" cy="201.5" r="1.85" fill="#1010f0"/><circle cx="262.2" cy="202.7" r="1.85" fill="#1010f0"/><circle cx="265.0" cy="204.5" r="1.85" fill="#1010f0"/><circle cx="267.7" cy="206.0" r="1.85" fill="#1010f0"/><circle cx="271.5" cy="206.0" r="1.85" fill="#1010f0"/><circle cx="275.0" cy="206.0" r="1.85" fill="#1010f0"/><circle cx="277.7" cy="204.0" r="1.85" fill="#1010f0"/><circle cx="280.4" cy="202.3" r="1.85" fill="#1010f0"/><circle cx="285.0" cy="202.9" r="1.85" fill="#1010f0"/><circle cx="289.0" cy="201.7" r="1.85" fill="#1010f0"/><circle cx="293.2" cy="200.5" r="1.85" fill="#1010f0"/><circle cx="298.0" cy="199.5" r="1.85" fill="#1010f0"/><circle cx="303.2" cy="198.7" r="1.85" fill="#1010f0"/><circle cx="305.0" cy="195.5" r="1.85" fill="#1010f0"/><circle cx="306.8" cy="192.3" r="1.85" fill="#1010f0"/><circle cx="309.5" cy="190.5" r="1.85" fill="#1010f0"/><circle cx="312.3" cy="188.7" r="1.85" fill="#1010f0"/><circle cx="315.0" cy="188.2" r="1.85" fill="#1010f0"/><circle cx="317.8" cy="187.8" r="1.85" fill="#1010f0"/><circle cx="320.5" cy="185.5" r="1.85" fill="#1010f0"/><circle cx="323.2" cy="183.2" r="1.85" fill="#1010f0"/><circle cx="326.9" cy="183.2" r="1.85" fill="#1010f0"/><circle cx="330.0" cy="187.3" r="1.85" fill="#1010f0"/><circle cx="333.3" cy="191.4" r="1.85" fill="#1010f0"/><circle cx="336.0" cy="195.5" r="1.85" fill="#1010f0"/><circle cx="339.5" cy="204.6" r="1.85" fill="#1010f0"/><circle cx="342.5" cy="206.5" r="1.85" fill="#1010f0"/><circle cx="345.8" cy="208.2" r="1.85" fill="#1010f0"/><circle cx="348.0" cy="210.5" r="1.85" fill="#1010f0"/><circle cx="350.4" cy="212.8" r="1.85" fill="#1010f0"/><circle cx="354.0" cy="213.7" r="1.85" fill="#1010f0"/><circle cx="357.7" cy="214.6" r="1.85" fill="#1010f0"/><circle cx="360.0" cy="216.4" r="1.85" fill="#1010f0"/><circle cx="362.2" cy="218.2" r="1.85" fill="#1010f0"/><circle cx="364.0" cy="226.4" r="1.85" fill="#1010f0"/><circle cx="365.4" cy="234.5" r="1.85" fill="#1010f0"/><circle cx="366.8" cy="242.8" r="1.85" fill="#1010f0"/><circle cx="369.5" cy="247.5" r="1.85" fill="#1010f0"/><circle cx="372.3" cy="251.9" r="1.85" fill="#1010f0"/><circle cx="376.8" cy="255.5" r="1.85" fill="#1010f0"/><circle cx="381.4" cy="259.2" r="1.85" fill="#1010f0"/><circle cx="385.0" cy="263.0" r="1.85" fill="#1010f0"/><circle cx="389.0" cy="267.0" r="1.85" fill="#1010f0"/><circle cx="394.5" cy="272.5" r="1.85" fill="#1010f0"/><circle cx="400.0" cy="276.5" r="1.85" fill="#1010f0"/><circle cx="406.0" cy="280.7" r="1.85" fill="#1010f0"/><circle cx="411.5" cy="286.0" r="1.85" fill="#1010f0"/><circle cx="417.4" cy="291.5" r="1.85" fill="#1010f0"/><circle cx="424.0" cy="293.8" r="1.85" fill="#1010f0"/><circle cx="438.7" cy="293.8" r="1.85" fill="#1010f0"/><g transform="translate(454.8,211.9) rotate(149.35)"><polygon points="0.0,-5.0 35.8,-5.0 35.8,-10.1 47.1,0.0 35.8,10.1 35.8,5.0 0.0,5.0" fill="url(#rb)" stroke="#111" stroke-width="0.9" stroke-linejoin="miter"/></g><g transform="translate(298.7,278.1) rotate(-28.86)"><polygon points="0.0,-5.0 35.5,-5.0 35.5,-10.1 46.8,0.0 35.5,10.1 35.5,5.0 0.0,5.0" fill="url(#rb)" stroke="#111" stroke-width="0.9" stroke-linejoin="miter"/></g><line x1="504" y1="180.4" x2="517.1" y2="180.4" stroke="#ff1010" stroke-width="1.4"/><circle cx="510.6" cy="180.4" r="1.4" fill="#ff1010"/><text x="525.8" y="183.3" font-size="10.6" class="r">t<tspan font-size="6.9" dy="1.4">1</tspan></text><line x1="504" y1="195.1" x2="517.1" y2="195.1" stroke="#ff9020" stroke-width="1.4"/><circle cx="510.6" cy="195.1" r="1.4" fill="#ff9020"/><text x="525.8" y="198.1" font-size="10.6" class="r">t<tspan font-size="6.9" dy="1.4">2</tspan></text><line x1="504" y1="209.8" x2="517.1" y2="209.8" stroke="#ffff00" stroke-width="1.4"/><circle cx="510.6" cy="209.8" r="1.4" fill="#ffff00"/><text x="525.8" y="212.8" font-size="10.6" class="r">t<tspan font-size="6.9" dy="1.4">3</tspan></text><line x1="504" y1="224.6" x2="517.1" y2="224.6" stroke="#10c810" stroke-width="1.4"/><circle cx="510.6" cy="224.6" r="1.4" fill="#10c810"/><text x="525.8" y="227.5" font-size="10.6" class="r">t<tspan font-size="6.9" dy="1.4">4</tspan></text><line x1="504" y1="239.3" x2="517.1" y2="239.3" stroke="#30f0d0" stroke-width="1.4"/><circle cx="510.6" cy="239.3" r="1.4" fill="#30f0d0"/><text x="525.8" y="242.2" font-size="10.6" class="r">t<tspan font-size="6.9" dy="1.4">5</tspan></text><line x1="504" y1="254.0" x2="517.1" y2="254.0" stroke="#10b0ff" stroke-width="1.4"/><circle cx="510.6" cy="254.0" r="1.4" fill="#10b0ff"/><text x="525.8" y="256.9" font-size="10.6" class="r">t<tspan font-size="6.9" dy="1.4">6</tspan></text><line x1="504" y1="268.7" x2="517.1" y2="268.7" stroke="#1010f0" stroke-width="1.4"/><circle cx="510.6" cy="268.7" r="1.4" fill="#1010f0"/><text x="525.8" y="271.7" font-size="10.6" class="r">t<tspan font-size="6.9" dy="1.4">7</tspan></text></g><g clip-path="url(#c3)"><polyline points="310.5,377.4 316.6,372.4 325.4,369.1 336.3,366.9 352.8,371.3 358.7,384.5 367.5,384.5 375.4,422.9 397.7,432.7 435.5,445.9" fill="none" stroke="#ffff00" stroke-width="1.3" stroke-linejoin="round" stroke-linecap="round"/><circle cx="310.5" cy="377.4" r="1.1" fill="#ffff00"/><circle cx="316.6" cy="372.4" r="1.1" fill="#ffff00"/><circle cx="325.4" cy="369.1" r="1.1" fill="#ffff00"/><circle cx="336.3" cy="366.9" r="1.1" fill="#ffff00"/><circle cx="352.8" cy="371.3" r="1.1" fill="#ffff00"/><circle cx="358.7" cy="384.5" r="1.1" fill="#ffff00"/><circle cx="367.5" cy="384.5" r="1.1" fill="#ffff00"/><circle cx="375.4" cy="422.9" r="1.1" fill="#ffff00"/><circle cx="397.7" cy="432.7" r="1.1" fill="#ffff00"/><circle cx="435.5" cy="445.9" r="1.1" fill="#ffff00"/><polyline points="247.6,371.9 254.9,360.1 265.0,350.1 271.3,347.3 277.7,349.2 285.0,355.5 291.0,374.7 292.3,368.3 298.6,368.3 305.0,366.5 310.5,377.4 316.9,368.3 336.3,368.0 349.5,374.6 355.0,383.4 360.4,390.0 368.1,392.1 372.5,396.5 379.1,397.6 384.6,408.6 387.9,415.2 396.6,422.9 406.5,426.1 415.0,426.3 424.5,425.5 434.1,426.8 439.5,429.0 453.2,433.6 472.3,439.6 506.4,443.2 520.0,445.9" fill="none" stroke="#ff9020" stroke-width="1.3" stroke-linejoin="round" stroke-linecap="round"/><circle cx="247.6" cy="371.9" r="1.3" fill="#ff9020"/><circle cx="254.9" cy="360.1" r="1.3" fill="#ff9020"/><circle cx="265.0" cy="350.1" r="1.3" fill="#ff9020"/><circle cx="271.3" cy="347.3" r="1.3" fill="#ff9020"/><circle cx="277.7" cy="349.2" r="1.3" fill="#ff9020"/><circle cx="285.0" cy="355.5" r="1.3" fill="#ff9020"/><circle cx="291.0" cy="374.7" r="1.3" fill="#ff9020"/><circle cx="292.3" cy="368.3" r="1.3" fill="#ff9020"/><circle cx="298.6" cy="368.3" r="1.3" fill="#ff9020"/><circle cx="305.0" cy="366.5" r="1.3" fill="#ff9020"/><circle cx="310.5" cy="377.4" r="1.3" fill="#ff9020"/><circle cx="316.9" cy="368.3" r="1.3" fill="#ff9020"/><circle cx="336.3" cy="368.0" r="1.3" fill="#ff9020"/><circle cx="349.5" cy="374.6" r="1.3" fill="#ff9020"/><circle cx="355.0" cy="383.4" r="1.3" fill="#ff9020"/><circle cx="360.4" cy="390.0" r="1.3" fill="#ff9020"/><circle cx="368.1" cy="392.1" r="1.3" fill="#ff9020"/><circle cx="372.5" cy="396.5" r="1.3" fill="#ff9020"/><circle cx="379.1" cy="397.6" r="1.3" fill="#ff9020"/><circle cx="384.6" cy="408.6" r="1.3" fill="#ff9020"/><circle cx="387.9" cy="415.2" r="1.3" fill="#ff9020"/><circle cx="396.6" cy="422.9" r="1.3" fill="#ff9020"/><circle cx="406.5" cy="426.1" r="1.3" fill="#ff9020"/><circle cx="415.0" cy="426.3" r="1.3" fill="#ff9020"/><circle cx="424.5" cy="425.5" r="1.3" fill="#ff9020"/><circle cx="434.1" cy="426.8" r="1.3" fill="#ff9020"/><circle cx="439.5" cy="429.0" r="1.3" fill="#ff9020"/><circle cx="453.2" cy="433.6" r="1.3" fill="#ff9020"/><circle cx="472.3" cy="439.6" r="1.3" fill="#ff9020"/><circle cx="506.4" cy="443.2" r="1.3" fill="#ff9020"/><circle cx="520.0" cy="445.9" r="1.3" fill="#ff9020"/><polyline points="249.1,355.5 276.8,349.2 287.7,357.4 304.1,365.6 334.1,369.1 349.5,370.2 361.5,377.5 367.5,378.3 371.4,396.5 378.0,405.3 384.6,415.2 392.2,422.9 413.6,428.2 434.1,438.5 451.8,440.5 476.4,445.9" fill="none" stroke="#10c810" stroke-width="1.4" stroke-linejoin="round" stroke-linecap="round"/><circle cx="249.1" cy="355.5" r="1.3" fill="#10c810"/><circle cx="276.8" cy="349.2" r="1.3" fill="#10c810"/><circle cx="287.7" cy="357.4" r="1.3" fill="#10c810"/><circle cx="304.1" cy="365.6" r="1.3" fill="#10c810"/><circle cx="334.1" cy="369.1" r="1.3" fill="#10c810"/><circle cx="349.5" cy="370.2" r="1.3" fill="#10c810"/><circle cx="361.5" cy="377.5" r="1.3" fill="#10c810"/><circle cx="367.5" cy="378.3" r="1.3" fill="#10c810"/><circle cx="371.4" cy="396.5" r="1.3" fill="#10c810"/><circle cx="378.0" cy="405.3" r="1.3" fill="#10c810"/><circle cx="384.6" cy="415.2" r="1.3" fill="#10c810"/><circle cx="392.2" cy="422.9" r="1.3" fill="#10c810"/><circle cx="413.6" cy="428.2" r="1.3" fill="#10c810"/><circle cx="434.1" cy="438.5" r="1.3" fill="#10c810"/><circle cx="451.8" cy="440.5" r="1.3" fill="#10c810"/><circle cx="476.4" cy="445.9" r="1.3" fill="#10c810"/><polyline points="282.2,357.7 286.8,359.2 298.6,359.2 311.4,365.6 320.5,363.7 333.0,359.9 339.6,361.4 347.3,366.3 361.5,376.8 371.4,381.2 378.0,382.3 386.8,390.0 394.4,403.1 402.1,407.5 491.4,436.4 507.7,440.4 517.3,445.9" fill="none" stroke="#ff1010" stroke-width="1.3" stroke-linejoin="round" stroke-linecap="round"/><circle cx="282.2" cy="357.7" r="1.4" fill="#ff1010"/><circle cx="286.8" cy="359.2" r="1.4" fill="#ff1010"/><circle cx="298.6" cy="359.2" r="1.4" fill="#ff1010"/><circle cx="311.4" cy="365.6" r="1.4" fill="#ff1010"/><circle cx="320.5" cy="363.7" r="1.4" fill="#ff1010"/><circle cx="333.0" cy="359.9" r="1.4" fill="#ff1010"/><circle cx="339.6" cy="361.4" r="1.4" fill="#ff1010"/><circle cx="347.3" cy="366.3" r="1.4" fill="#ff1010"/><circle cx="361.5" cy="376.8" r="1.4" fill="#ff1010"/><circle cx="371.4" cy="381.2" r="1.4" fill="#ff1010"/><circle cx="378.0" cy="382.3" r="1.4" fill="#ff1010"/><circle cx="386.8" cy="390.0" r="1.4" fill="#ff1010"/><circle cx="394.4" cy="403.1" r="1.4" fill="#ff1010"/><circle cx="402.1" cy="407.5" r="1.4" fill="#ff1010"/><circle cx="491.4" cy="436.4" r="1.4" fill="#ff1010"/><circle cx="507.7" cy="440.4" r="1.4" fill="#ff1010"/><circle cx="517.3" cy="445.9" r="1.4" fill="#ff1010"/><polyline points="248.6,371.0 253.0,362.4 256.0,352.5 258.2,344.1 260.4,340.8 263.0,339.0 265.9,337.5 270.0,336.0 273.5,335.3 276.5,335.8 279.0,337.0 282.3,341.9 285.6,348.5 288.3,357.2 290.0,361.5 293.2,358.3 298.7,355.8 305.0,360.5 311.4,364.6 318.7,362.8 325.0,360.0 331.9,357.1 338.5,356.0 340.5,358.5 342.8,363.7 344.6,379.2 346.0,385.5 347.4,391.0 348.8,396.5 350.1,401.9 351.8,407.5 353.7,412.9 356.8,416.0 360.1,418.5 364.5,420.5 369.2,422.3 371.4,423.9 377.0,426.0 382.4,428.3 391.0,431.0 399.9,433.8 407.0,435.3 413.6,436.9 420.0,438.3 427.3,439.6 442.0,442.5 458.6,445.9" fill="none" stroke="#30f0d0" stroke-width="1.9" stroke-linejoin="round" stroke-linecap="round"/><circle cx="248.6" cy="371.0" r="1.7" fill="#30f0d0"/><circle cx="253.0" cy="362.4" r="1.7" fill="#30f0d0"/><circle cx="256.0" cy="352.5" r="1.7" fill="#30f0d0"/><circle cx="258.2" cy="344.1" r="1.7" fill="#30f0d0"/><circle cx="260.4" cy="340.8" r="1.7" fill="#30f0d0"/><circle cx="263.0" cy="339.0" r="1.7" fill="#30f0d0"/><circle cx="265.9" cy="337.5" r="1.7" fill="#30f0d0"/><circle cx="270.0" cy="336.0" r="1.7" fill="#30f0d0"/><circle cx="273.5" cy="335.3" r="1.7" fill="#30f0d0"/><circle cx="276.5" cy="335.8" r="1.7" fill="#30f0d0"/><circle cx="279.0" cy="337.0" r="1.7" fill="#30f0d0"/><circle cx="282.3" cy="341.9" r="1.7" fill="#30f0d0"/><circle cx="285.6" cy="348.5" r="1.7" fill="#30f0d0"/><circle cx="288.3" cy="357.2" r="1.7" fill="#30f0d0"/><circle cx="290.0" cy="361.5" r="1.7" fill="#30f0d0"/><circle cx="293.2" cy="358.3" r="1.7" fill="#30f0d0"/><circle cx="298.7" cy="355.8" r="1.7" fill="#30f0d0"/><circle cx="305.0" cy="360.5" r="1.7" fill="#30f0d0"/><circle cx="311.4" cy="364.6" r="1.7" fill="#30f0d0"/><circle cx="318.7" cy="362.8" r="1.7" fill="#30f0d0"/><circle cx="325.0" cy="360.0" r="1.7" fill="#30f0d0"/><circle cx="331.9" cy="357.1" r="1.7" fill="#30f0d0"/><circle cx="338.5" cy="356.0" r="1.7" fill="#30f0d0"/><circle cx="340.5" cy="358.5" r="1.7" fill="#30f0d0"/><circle cx="342.8" cy="363.7" r="1.7" fill="#30f0d0"/><circle cx="344.6" cy="379.2" r="1.7" fill="#30f0d0"/><circle cx="346.0" cy="385.5" r="1.7" fill="#30f0d0"/><circle cx="347.4" cy="391.0" r="1.7" fill="#30f0d0"/><circle cx="348.8" cy="396.5" r="1.7" fill="#30f0d0"/><circle cx="350.1" cy="401.9" r="1.7" fill="#30f0d0"/><circle cx="351.8" cy="407.5" r="1.7" fill="#30f0d0"/><circle cx="353.7" cy="412.9" r="1.7" fill="#30f0d0"/><circle cx="356.8" cy="416.0" r="1.7" fill="#30f0d0"/><circle cx="360.1" cy="418.5" r="1.7" fill="#30f0d0"/><circle cx="364.5" cy="420.5" r="1.7" fill="#30f0d0"/><circle cx="369.2" cy="422.3" r="1.7" fill="#30f0d0"/><circle cx="371.4" cy="423.9" r="1.7" fill="#30f0d0"/><circle cx="377.0" cy="426.0" r="1.7" fill="#30f0d0"/><circle cx="382.4" cy="428.3" r="1.7" fill="#30f0d0"/><circle cx="391.0" cy="431.0" r="1.7" fill="#30f0d0"/><circle cx="399.9" cy="433.8" r="1.7" fill="#30f0d0"/><circle cx="407.0" cy="435.3" r="1.7" fill="#30f0d0"/><circle cx="413.6" cy="436.9" r="1.7" fill="#30f0d0"/><circle cx="420.0" cy="438.3" r="1.7" fill="#30f0d0"/><circle cx="427.3" cy="439.6" r="1.7" fill="#30f0d0"/><circle cx="442.0" cy="442.5" r="1.7" fill="#30f0d0"/><circle cx="458.6" cy="445.9" r="1.7" fill="#30f0d0"/><polyline points="249.1,378.9 258.6,351.0 271.3,342.8 280.4,348.3 290.4,366.5 296.8,365.6 338.1,365.3 339.6,402.0 345.1,414.1 349.5,431.6 371.4,437.1 384.6,441.5 397.7,445.5" fill="none" stroke="#10b0ff" stroke-width="1.3" stroke-linejoin="round" stroke-linecap="round"/><circle cx="249.1" cy="378.9" r="1.3" fill="#10b0ff"/><circle cx="258.6" cy="351.0" r="1.3" fill="#10b0ff"/><circle cx="271.3" cy="342.8" r="1.3" fill="#10b0ff"/><circle cx="280.4" cy="348.3" r="1.3" fill="#10b0ff"/><circle cx="290.4" cy="366.5" r="1.3" fill="#10b0ff"/><circle cx="296.8" cy="365.6" r="1.3" fill="#10b0ff"/><circle cx="338.1" cy="365.3" r="1.3" fill="#10b0ff"/><circle cx="339.6" cy="402.0" r="1.3" fill="#10b0ff"/><circle cx="345.1" cy="414.1" r="1.3" fill="#10b0ff"/><circle cx="349.5" cy="431.6" r="1.3" fill="#10b0ff"/><circle cx="371.4" cy="437.1" r="1.3" fill="#10b0ff"/><circle cx="384.6" cy="441.5" r="1.3" fill="#10b0ff"/><circle cx="397.7" cy="445.5" r="1.3" fill="#10b0ff"/><polyline points="248.6,371.0 265.0,339.1 275.9,341.9 283.2,347.3 289.5,363.7 293.2,358.8 300.5,360.1 311.4,368.3 316.0,363.7 318.8,377.9 321.0,395.4 324.3,408.6 327.1,422.9 329.3,421.3 330.8,423.9 338.5,425.0 384.6,439.3 410.9,445.5" fill="none" stroke="#1010f0" stroke-width="1.4" stroke-linejoin="round" stroke-linecap="round"/><circle cx="248.6" cy="371.0" r="1.3" fill="#1010f0"/><circle cx="265.0" cy="339.1" r="1.3" fill="#1010f0"/><circle cx="275.9" cy="341.9" r="1.3" fill="#1010f0"/><circle cx="283.2" cy="347.3" r="1.3" fill="#1010f0"/><circle cx="289.5" cy="363.7" r="1.3" fill="#1010f0"/><circle cx="293.2" cy="358.8" r="1.3" fill="#1010f0"/><circle cx="300.5" cy="360.1" r="1.3" fill="#1010f0"/><circle cx="311.4" cy="368.3" r="1.3" fill="#1010f0"/><circle cx="316.0" cy="363.7" r="1.3" fill="#1010f0"/><circle cx="318.8" cy="377.9" r="1.3" fill="#1010f0"/><circle cx="321.0" cy="395.4" r="1.3" fill="#1010f0"/><circle cx="324.3" cy="408.6" r="1.3" fill="#1010f0"/><circle cx="327.1" cy="422.9" r="1.3" fill="#1010f0"/><circle cx="329.3" cy="421.3" r="1.3" fill="#1010f0"/><circle cx="330.8" cy="423.9" r="1.3" fill="#1010f0"/><circle cx="338.5" cy="425.0" r="1.3" fill="#1010f0"/><circle cx="384.6" cy="439.3" r="1.3" fill="#1010f0"/><circle cx="410.9" cy="445.5" r="1.3" fill="#1010f0"/><g transform="translate(457.3,370.1) rotate(167.34)"><polygon points="0.0,-5.0 35.2,-5.0 35.2,-10.1 46.5,0.0 35.2,10.1 35.2,5.0 0.0,5.0" fill="url(#rb)" stroke="#111" stroke-width="0.9" stroke-linejoin="miter"/></g><line x1="501.3" y1="322.4" x2="514.4" y2="322.4" stroke="#ff1010" stroke-width="1.4"/><circle cx="507.9" cy="322.4" r="1.4" fill="#ff1010"/><text x="525.9" y="325.3" font-size="10.6" class="r">t<tspan font-size="6.9" dy="1.4">1</tspan></text><line x1="501.3" y1="336.2" x2="514.4" y2="336.2" stroke="#ff9020" stroke-width="1.4"/><circle cx="507.9" cy="336.2" r="1.4" fill="#ff9020"/><text x="525.9" y="339.2" font-size="10.6" class="r">t<tspan font-size="6.9" dy="1.4">2</tspan></text><line x1="501.3" y1="350.0" x2="514.4" y2="350.0" stroke="#ffff00" stroke-width="1.4"/><circle cx="507.9" cy="350.0" r="1.4" fill="#ffff00"/><text x="525.9" y="353.0" font-size="10.6" class="r">t<tspan font-size="6.9" dy="1.4">3</tspan></text><line x1="501.3" y1="363.9" x2="514.4" y2="363.9" stroke="#10c810" stroke-width="1.4"/><circle cx="507.9" cy="363.9" r="1.4" fill="#10c810"/><text x="525.9" y="366.8" font-size="10.6" class="r">t<tspan font-size="6.9" dy="1.4">4</tspan></text><line x1="501.3" y1="377.7" x2="514.4" y2="377.7" stroke="#30f0d0" stroke-width="1.4"/><circle cx="507.9" cy="377.7" r="1.4" fill="#30f0d0"/><text x="525.9" y="380.6" font-size="10.6" class="r">t<tspan font-size="6.9" dy="1.4">5</tspan></text><line x1="501.3" y1="391.5" x2="514.4" y2="391.5" stroke="#10b0ff" stroke-width="1.4"/><circle cx="507.9" cy="391.5" r="1.4" fill="#10b0ff"/><text x="525.9" y="394.4" font-size="10.6" class="r">t<tspan font-size="6.9" dy="1.4">6</tspan></text><line x1="501.3" y1="405.3" x2="514.4" y2="405.3" stroke="#1010f0" stroke-width="1.4"/><circle cx="507.9" cy="405.3" r="1.4" fill="#1010f0"/><text x="525.9" y="408.3" font-size="10.6" class="r">t<tspan font-size="6.9" dy="1.4">7</tspan></text></g><rect x="4.6" y="22.5" width="22.10" height="134.70" fill="none" stroke="#0a0a0a" stroke-width="1.45"/><text transform="translate(19.2,89.8) rotate(-90) scale(0.882,1)" text-anchor="middle" class="b" font-size="12.9">PROGRADING COASTS</text><rect x="4.6" y="167.3" width="22.10" height="134.80" fill="none" stroke="#0a0a0a" stroke-width="1.45"/><text transform="translate(19.2,234.7) rotate(-90) scale(0.882,1)" text-anchor="middle" class="b" font-size="12.9">STABLE COASTS</text><rect x="4.6" y="310.95" width="22.10" height="134.85" fill="none" stroke="#0a0a0a" stroke-width="1.45"/><text transform="translate(19.2,378.4) rotate(-90) scale(0.882,1)" text-anchor="middle" class="b" font-size="12.9">RECEDING COASTS</text><rect x="36.3" y="22.5" width="202.10" height="134.90" fill="none" stroke="#0a0a0a" stroke-width="1.45"/><rect x="35.75" y="166.95" width="202.65" height="135.00" fill="none" stroke="#0a0a0a" stroke-width="1.5"/><rect x="35.35" y="311.15" width="203.55" height="135.20" fill="none" stroke="#0a0a0a" stroke-width="1.7"/><rect x="246.9" y="23.2" width="292.10" height="134.60" fill="none" stroke="#0a0a0a" stroke-width="1.9"/><rect x="246.0" y="167.7" width="294.70" height="134.80" fill="none" stroke="#0a0a0a" stroke-width="1.9"/><rect x="246.0" y="311.5" width="295.10" height="134.60" fill="none" stroke="#0a0a0a" stroke-width="1.9"/></svg>
</body></html>
